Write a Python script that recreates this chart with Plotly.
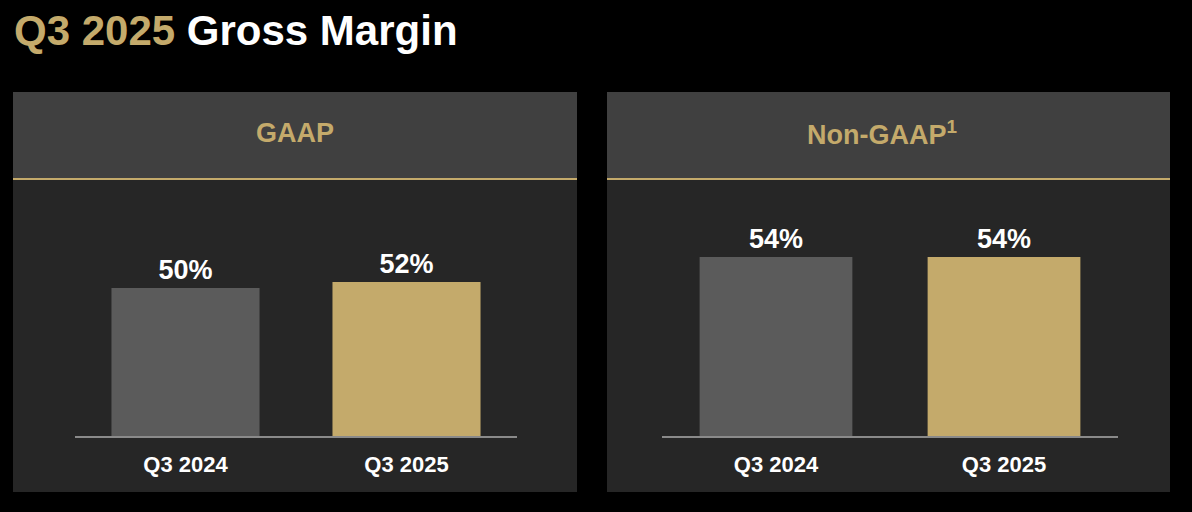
import plotly.graph_objects as go
from plotly.subplots import make_subplots

W, H = 1192, 512
GOLD = "#c4aa6b"
GREY_BAR = "#5b5b5b"

quarters = ["Q3 2024", "Q3 2025"]
gaap = [50, 52]
non_gaap = [54, 54]
bar_colors = [GREY_BAR, GOLD]


def px(x):
    return x / W


def py(y):
    return 1 - y / H


fig = make_subplots(rows=1, cols=2)

for i, vals in enumerate([gaap, non_gaap], start=1):
    fig.add_trace(
        go.Bar(
            x=quarters,
            y=vals,
            marker=dict(color=bar_colors, line=dict(width=0)),
            width=0.67,
            text=[f"<b>{v}%</b>" for v in vals],
            textposition="outside",
            textfont=dict(color="white", size=27, family="Liberation Sans"),
            cliponaxis=False,
            showlegend=False,
            hoverinfo="skip",
        ),
        row=1, col=i,
    )

# panels
shapes = []
annotations = []
for (x0, x1, label, cx) in [(13, 577, "<b>GAAP</b>", 295),
                            (607, 1170, "<b>Non-GAAP<sup>1</sup></b>", 882)]:
    shapes.append(dict(type="rect", xref="paper", yref="paper", x0=px(x0), x1=px(x1),
                       y0=py(492), y1=py(92), fillcolor="#262626", line_width=0, layer="below"))
    shapes.append(dict(type="rect", xref="paper", yref="paper", x0=px(x0), x1=px(x1),
                       y0=py(178), y1=py(92), fillcolor="#404040", line_width=0, layer="below"))
    shapes.append(dict(type="line", xref="paper", yref="paper", x0=px(x0), x1=px(x1),
                       y0=py(179), y1=py(179), line=dict(color=GOLD, width=2), layer="below"))
    annotations.append(dict(xref="paper", yref="paper", x=px(cx), y=py(133),
                            xanchor="center", yanchor="middle",
                            text=label, showarrow=False,
                            font=dict(color=GOLD, size=27, family="Liberation Sans")))

annotations.append(dict(xref="paper", yref="paper", x=px(12), y=py(30),
                        xanchor="left", yanchor="middle",
                        text=f"<b><span style='color:{GOLD}'>Q3 2025</span> Gross Margin</b>",
                        showarrow=False,
                        font=dict(color="white", size=42, family="Liberation Sans")))

fig.update_layout(
    width=W, height=H,
    margin=dict(l=0, r=0, t=0, b=0),
    paper_bgcolor="black",
    plot_bgcolor="rgba(0,0,0,0)",
    shapes=shapes,
    annotations=annotations,
    xaxis=dict(domain=[px(75), px(517)]),
    xaxis2=dict(domain=[px(662), px(1118)]),
    yaxis=dict(domain=[py(436), py(180)], range=[0, 86.5]),
    yaxis2=dict(domain=[py(436), py(180)], range=[0, 77.2]),
)
fig.update_xaxes(showline=True, linecolor="#8a8a8a", linewidth=2, showgrid=False,
                 ticks="", tickfont=dict(color="white", size=22, family="Liberation Sans"),
                 ticklabelstandoff=8)
fig.update_xaxes(tickvals=quarters, ticktext=[f"<b>{q}</b>" for q in quarters])
fig.update_yaxes(visible=False, showgrid=False)

fig.write_html("out.html", config={"displayModeBar": False},
               post_script="document.body.style.margin='0';document.body.style.background='black';")
